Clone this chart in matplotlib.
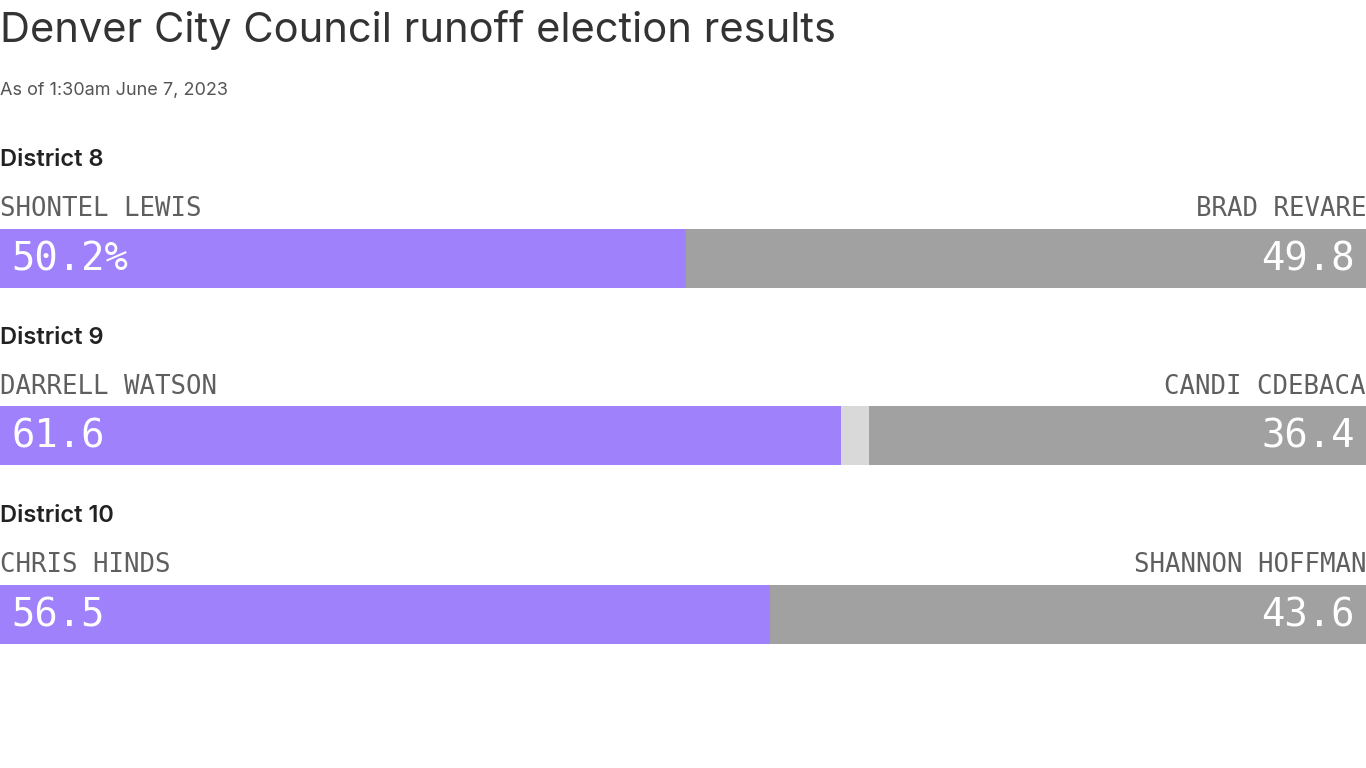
import matplotlib.pyplot as plt

# Data
districts = ['District 8', 'District 9', 'District 10']
left_names = ['SHONTEL LEWIS', 'DARRELL WATSON', 'CHRIS HINDS']
right_names = ['BRAD REVARE', 'CANDI CDEBACA', 'SHANNON HOFFMAN']
left_pct = [50.2, 61.6, 56.5]
right_pct = [49.8, 36.4, 43.6]
left_labels = ['50.2%', '61.6', '56.5']
right_labels = ['49.8', '36.4', '43.6']

purple = '#a081fc'
gray = '#a0a1a0'
light = '#d9d9d9'

W, H = 1366, 768
fig = plt.figure(figsize=(W / 100, H / 100), dpi=100)
ax = fig.add_axes([0, 0, 1, 1])
ax.set_xlim(0, 100)
ax.set_ylim(H, 0)
ax.axis('off')

fig.text(0, 1 - 30 / H, 'Denver City Council runoff election results', fontsize=30,
         family='Inter', color='#333333', va='center', ha='left')
fig.text(0, 1 - 91 / H, 'As of 1:30am June 7, 2023', fontsize=13,
         family='Inter', color='#555555', va='center', ha='left')

bar_y = [258.5, 435.5, 614.5]
bar_h = 59
mono = 'DejaVu Sans Mono'

for i, d in enumerate(districts):
    y = bar_y[i]
    lp, rp = left_pct[i], right_pct[i]
    # other votes fill the gap between the two candidates
    ax.barh(y, 100, left=0, height=bar_h, color=light)
    ax.barh(y, lp, left=0, height=bar_h, color=purple)
    ax.barh(y, rp, left=100 - rp, height=bar_h, color=gray)

    ax.text(0, y - 98, d, fontsize=17, family='Inter', fontweight='semibold',
            color='#222222', va='center', ha='left')
    ax.text(0, y - 49, left_names[i], fontsize=18.5, family=mono,
            color='#5f5f5f', va='center', ha='left')
    ax.text(100, y - 49, right_names[i], fontsize=18.5, family=mono,
            color='#5f5f5f', va='center', ha='right')
    ax.text(0.85, y + 1, left_labels[i], fontsize=28, family=mono,
            color='white', va='center', ha='left')
    ax.text(99.2, y + 1, right_labels[i], fontsize=28, family=mono,
            color='white', va='center', ha='right')

fig.savefig('out.png', dpi=100)
